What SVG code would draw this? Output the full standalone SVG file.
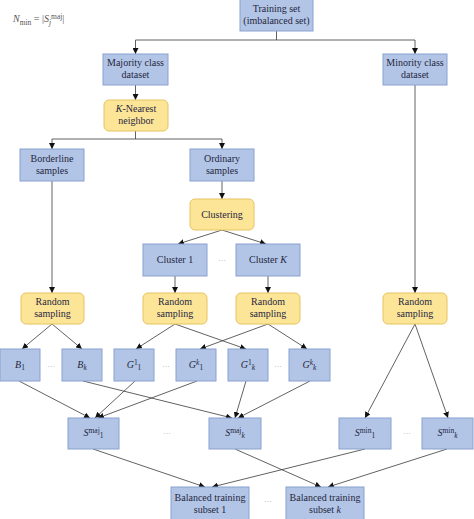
<svg xmlns="http://www.w3.org/2000/svg" width="474" height="519" viewBox="0 0 474 519">
<defs>
<marker id="ah" viewBox="0 0 10 10" refX="10" refY="5" markerWidth="6" markerHeight="6" orient="auto" markerUnits="userSpaceOnUse">
<path d="M0,0 L10,5 L0,10 z" fill="#111"/>
</marker>
<style>
text{font-family:"Liberation Serif","DejaVu Serif",serif;font-size:10px;fill:#1f2740;text-anchor:middle}
.b{fill:#b3c5e6;stroke:#8aa1cf;stroke-width:1}
.y{fill:#fde598;stroke:#e6c35e;stroke-width:1}
.c{fill:none;stroke:#3a3a3a;stroke-width:0.8}
.a{fill:none;stroke:#3a3a3a;stroke-width:0.8;marker-end:url(#ah)}
.d{fill:#aaa;font-size:8px}
.i{font-style:italic}
.s{font-size:7.5px}
.n{fill:#555;text-anchor:start;font-size:10px}
</style>
</defs>
<rect width="474" height="519" fill="#fff"/>

<text class="n" x="13" y="22"><tspan class="i">N</tspan><tspan class="s" dy="2.5">min</tspan><tspan dy="-2.5"> = </tspan><tspan>|</tspan><tspan class="i">S</tspan><tspan class="s i" dy="2.5">j</tspan><tspan class="s" dy="-5.5">maj</tspan><tspan dy="3">|</tspan></text>

<g id="connectors">
<path class="c" d="M276.5,31 V40 H135.5"/>
<path class="a" d="M135.5,40 V54"/>
<path class="c" d="M276.5,40 H415"/>
<path class="a" d="M415,40 V54"/>
<path class="a" d="M135.5,85 V100"/>
<path class="c" d="M135.5,131 V139 H52"/>
<path class="a" d="M52,139 V149"/>
<path class="c" d="M135.5,139 H222"/>
<path class="a" d="M222,139 V149"/>
<path class="a" d="M222,181 V199"/>
<path class="a" d="M222,230 L178,244"/>
<path class="a" d="M222,230 L266,244"/>
<path class="a" d="M52,181 V293"/>
<path class="a" d="M175,276 V293"/>
<path class="a" d="M268,276 V293"/>
<path class="a" d="M415,85 V293"/>
<path class="a" d="M52,324 L22,349"/>
<path class="a" d="M52,324 L82,349"/>
<path class="a" d="M175,324 L136,349"/>
<path class="a" d="M175,324 L246,349"/>
<path class="a" d="M268,324 L200,349"/>
<path class="a" d="M268,324 L307,349"/>
<path class="a" d="M415,324 L365,418"/>
<path class="a" d="M415,324 L448,418"/>
<path class="a" d="M19,381 L90,418"/>
<path class="a" d="M83,381 L232,418"/>
<path class="a" d="M135,381 L95,418"/>
<path class="a" d="M197,381 L98,418"/>
<path class="a" d="M246,381 L235,418"/>
<path class="a" d="M310,381 L238,418"/>
<path class="a" d="M93,449 L205,487"/>
<path class="a" d="M235,449 L321,487"/>
<path class="a" d="M365,449 L212,487"/>
<path class="a" d="M447,449 L328,487"/>
</g>

<g id="training"><rect class="b" x="240" y="-1" width="73" height="32"/><text x="276.5" y="12">Training set</text><text x="276.5" y="24">(imbalanced set)</text></g>
<g id="majority"><rect class="b" x="103" y="54" width="65" height="31"/><text x="135.5" y="66">Majority class</text><text x="135.5" y="78">dataset</text></g>
<g id="minority"><rect class="b" x="383" y="54" width="64" height="31"/><text x="415" y="66">Minority class</text><text x="415" y="78">dataset</text></g>
<g id="knn"><rect class="y" x="104" y="100" width="64" height="31" rx="5"/><text x="136" y="112"><tspan class="i">K</tspan>-Nearest</text><text x="136" y="124">neighbor</text></g>
<g id="borderline"><rect class="b" x="20" y="149" width="64" height="32"/><text x="52" y="162">Borderline</text><text x="52" y="174">samples</text></g>
<g id="ordinary"><rect class="b" x="190" y="149" width="64" height="32"/><text x="222" y="162">Ordinary</text><text x="222" y="174">samples</text></g>
<g id="clustering"><rect class="y" x="190" y="199" width="64" height="31" rx="5"/><text x="222" y="217.5">Clustering</text></g>
<g id="cluster1"><rect class="b" x="143" y="244" width="64" height="32"/><text x="175" y="263">Cluster 1</text></g>
<g id="clusterK"><rect class="b" x="236" y="244" width="64" height="32"/><text x="268" y="263">Cluster <tspan class="i">K</tspan></text></g>
<text class="d" x="222" y="263">···</text>

<g id="rs1"><rect class="y" x="21" y="293" width="63" height="31" rx="5"/><text x="52.5" y="305">Random</text><text x="52.5" y="317">sampling</text></g>
<g id="rs2"><rect class="y" x="143" y="293" width="64" height="31" rx="5"/><text x="175" y="305">Random</text><text x="175" y="317">sampling</text></g>
<g id="rs3"><rect class="y" x="236" y="293" width="64" height="31" rx="5"/><text x="268" y="305">Random</text><text x="268" y="317">sampling</text></g>
<g id="rs4"><rect class="y" x="383" y="293" width="64" height="31" rx="5"/><text x="415" y="305">Random</text><text x="415" y="317">sampling</text></g>

<g id="B1"><rect class="b" x="0" y="349" width="40" height="32"/><text x="20" y="368"><tspan class="i">B</tspan><tspan class="s" dy="2">1</tspan></text></g>
<g id="Bk"><rect class="b" x="62" y="349" width="40" height="32"/><text x="82" y="368"><tspan class="i">B</tspan><tspan class="s i" dy="2">k</tspan></text></g>
<g id="G11"><rect class="b" x="114" y="349" width="40" height="32"/><text x="134" y="368"><tspan class="i">G</tspan><tspan class="s" dy="-3.5">1</tspan><tspan class="s" dy="5.5">1</tspan></text></g>
<g id="Gk1"><rect class="b" x="176" y="349" width="40" height="32"/><text x="196" y="368"><tspan class="i">G</tspan><tspan class="s i" dy="-3.5">k</tspan><tspan class="s" dy="5.5">1</tspan></text></g>
<g id="G1k"><rect class="b" x="228" y="349" width="40" height="32"/><text x="248" y="368"><tspan class="i">G</tspan><tspan class="s" dy="-3.5">1</tspan><tspan class="s i" dy="5.5">k</tspan></text></g>
<g id="Gkk"><rect class="b" x="289" y="349" width="41" height="32"/><text x="309.5" y="368"><tspan class="i">G</tspan><tspan class="s i" dy="-3.5">k</tspan><tspan class="s i" dy="5.5">k</tspan></text></g>
<text class="d" x="51" y="369">···</text>
<text class="d" x="166" y="369">···</text>
<text class="d" x="278" y="369">···</text>

<g id="Smaj1"><rect class="b" x="68" y="418" width="51" height="31"/><text x="93.5" y="436"><tspan class="i">S</tspan><tspan class="s" dy="-3.5">maj</tspan><tspan class="s" dy="5.5">1</tspan></text></g>
<g id="Smajk"><rect class="b" x="209" y="418" width="52" height="31"/><text x="235" y="436"><tspan class="i">S</tspan><tspan class="s" dy="-3.5">maj</tspan><tspan class="s i" dy="5.5">k</tspan></text></g>
<g id="Smin1"><rect class="b" x="339" y="418" width="52" height="31"/><text x="365" y="436"><tspan class="i">S</tspan><tspan class="s" dy="-3.5">min</tspan><tspan class="s" dy="5.5">1</tspan></text></g>
<g id="Smink"><rect class="b" x="422" y="418" width="51" height="31"/><text x="447.5" y="436"><tspan class="i">S</tspan><tspan class="s" dy="-3.5">min</tspan><tspan class="s i" dy="5.5">k</tspan></text></g>
<text class="d" x="167" y="436">···</text>
<text class="d" x="407" y="436">···</text>

<g id="bal1"><rect class="b" x="171" y="487" width="78" height="34"/><text x="210" y="501">Balanced training</text><text x="210" y="513">subset 1</text></g>
<g id="balk"><rect class="b" x="286" y="487" width="78" height="34"/><text x="325" y="501">Balanced training</text><text x="325" y="513">subset <tspan class="i">k</tspan></text></g>
<text class="d" x="268" y="504">···</text>
</svg>
